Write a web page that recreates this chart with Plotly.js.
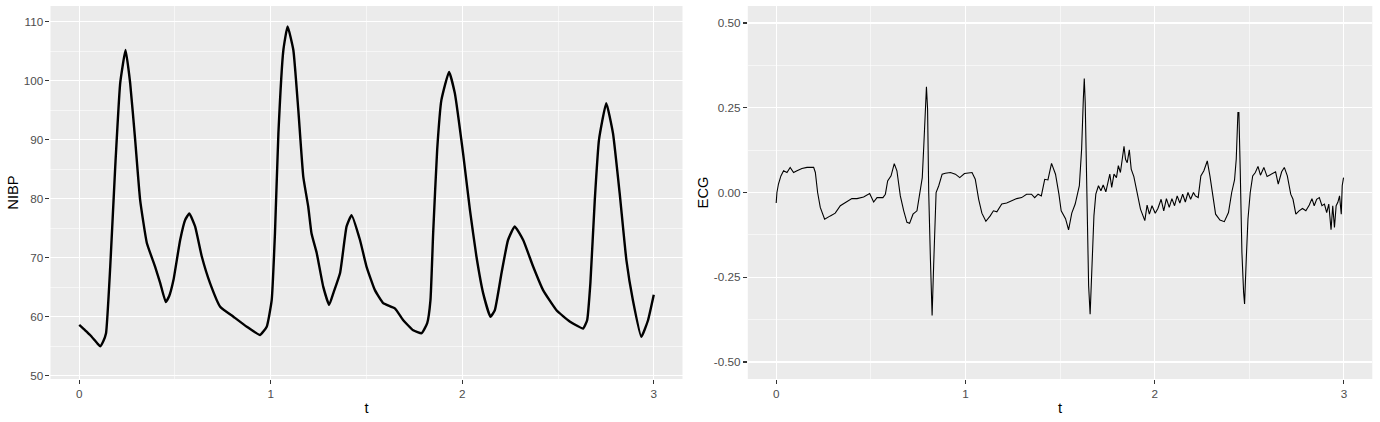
<!DOCTYPE html>
<html>
<head>
<meta charset="utf-8">
<script src="https://cdn.plot.ly/plotly-3.0.1.min.js"></script>
<style>html,body{margin:0;padding:0;background:#fff;}#chart{width:1380px;height:422px;}</style>
</head>
<body>
<div id="chart"></div>
<script>
// NIBP panel data
const nibpT = [0.0, 0.031, 0.057, 0.094, 0.11, 0.125, 0.14, 0.162, 0.188, 0.214, 0.242, 0.266, 0.292, 0.318, 0.353, 0.396, 0.423, 0.452, 0.47, 0.492, 0.527, 0.553, 0.575, 0.605, 0.64, 0.683, 0.736, 0.805, 0.875, 0.944, 0.979, 1.005, 1.022, 1.04, 1.066, 1.088, 1.118, 1.144, 1.17, 1.196, 1.213, 1.24, 1.274, 1.305, 1.327, 1.362, 1.396, 1.422, 1.466, 1.5, 1.544, 1.587, 1.648, 1.692, 1.744, 1.788, 1.817, 1.834, 1.848, 1.869, 1.891, 1.931, 1.961, 2.005, 2.04, 2.074, 2.109, 2.147, 2.17, 2.205, 2.239, 2.274, 2.318, 2.37, 2.422, 2.492, 2.561, 2.631, 2.652, 2.669, 2.692, 2.714, 2.752, 2.787, 2.822, 2.857, 2.891, 2.935, 2.97, 3.0];
const nibpV = [58.6, 57.7, 56.9, 55.5, 55.0, 55.8, 57.2, 68.5, 85.4, 99.6, 105.2, 99.6, 90.0, 79.8, 72.5, 68.5, 65.7, 62.5, 63.5, 66.2, 73.0, 76.4, 77.5, 75.3, 70.2, 65.7, 61.7, 60.0, 58.3, 56.9, 58.3, 62.8, 74.1, 91.1, 105.2, 109.2, 105.2, 95.0, 83.7, 78.6, 74.1, 70.8, 65.1, 62.0, 64.0, 67.4, 75.3, 77.2, 73.0, 68.5, 64.5, 62.3, 61.4, 59.4, 57.7, 57.2, 58.9, 62.8, 74.1, 88.3, 96.7, 101.5, 97.9, 87.5, 78.1, 70.2, 64.0, 60.0, 61.1, 67.4, 73.0, 75.3, 73.0, 68.5, 64.5, 61.1, 59.2, 58.0, 59.4, 65.7, 79.8, 90.0, 96.2, 91.1, 80.9, 69.6, 62.8, 56.6, 59.4, 63.7];

// ECG panel data
const ecgT = [0.0, 0.004, 0.012, 0.025, 0.039, 0.057, 0.074, 0.092, 0.11, 0.136, 0.163, 0.198, 0.207, 0.219, 0.233, 0.256, 0.286, 0.312, 0.339, 0.374, 0.4, 0.427, 0.462, 0.494, 0.515, 0.533, 0.564, 0.577, 0.589, 0.607, 0.624, 0.638, 0.656, 0.674, 0.691, 0.705, 0.723, 0.744, 0.758, 0.772, 0.78, 0.788, 0.794, 0.8, 0.806, 0.815, 0.824, 0.832, 0.845, 0.859, 0.877, 0.894, 0.921, 0.947, 0.97, 0.995, 1.018, 1.035, 1.052, 1.07, 1.087, 1.108, 1.131, 1.148, 1.166, 1.192, 1.218, 1.244, 1.271, 1.297, 1.323, 1.349, 1.366, 1.384, 1.401, 1.419, 1.436, 1.455, 1.476, 1.494, 1.506, 1.529, 1.545, 1.562, 1.58, 1.602, 1.614, 1.623, 1.628, 1.633, 1.64, 1.651, 1.659, 1.668, 1.679, 1.689, 1.703, 1.716, 1.728, 1.742, 1.754, 1.763, 1.773, 1.785, 1.798, 1.808, 1.819, 1.829, 1.838, 1.846, 1.855, 1.866, 1.876, 1.89, 1.907, 1.925, 1.948, 1.96, 1.972, 1.986, 2.003, 2.017, 2.034, 2.048, 2.062, 2.077, 2.091, 2.105, 2.119, 2.133, 2.148, 2.162, 2.176, 2.19, 2.205, 2.215, 2.23, 2.244, 2.26, 2.278, 2.292, 2.31, 2.322, 2.345, 2.368, 2.39, 2.407, 2.422, 2.431, 2.44, 2.445, 2.452, 2.461, 2.47, 2.475, 2.484, 2.493, 2.505, 2.518, 2.532, 2.546, 2.559, 2.577, 2.594, 2.621, 2.639, 2.653, 2.671, 2.685, 2.701, 2.719, 2.731, 2.746, 2.763, 2.781, 2.799, 2.817, 2.831, 2.843, 2.856, 2.87, 2.884, 2.897, 2.909, 2.92, 2.932, 2.941, 2.95, 2.959, 2.968, 2.977, 2.986, 2.991, 2.998];
const ecgV = [-0.031, 0.0, 0.025, 0.049, 0.064, 0.059, 0.074, 0.059, 0.064, 0.071, 0.074, 0.074, 0.059, 0.0, -0.044, -0.079, -0.069, -0.061, -0.039, -0.028, -0.018, -0.018, -0.013, -0.003, -0.028, -0.015, -0.015, -0.005, 0.034, 0.049, 0.085, 0.064, -0.01, -0.054, -0.088, -0.091, -0.064, -0.054, -0.01, 0.044, 0.138, 0.275, 0.312, 0.246, 0.0, -0.196, -0.363, -0.216, 0.0, 0.02, 0.054, 0.057, 0.059, 0.054, 0.044, 0.056, 0.057, 0.059, 0.039, -0.02, -0.061, -0.085, -0.069, -0.054, -0.057, -0.034, -0.031, -0.025, -0.018, -0.015, -0.005, -0.005, -0.015, -0.005, -0.01, 0.039, 0.037, 0.086, 0.054, -0.005, -0.054, -0.077, -0.11, -0.061, -0.034, 0.02, 0.128, 0.275, 0.336, 0.265, 0.0, -0.275, -0.359, -0.246, -0.069, -0.005, 0.02, 0.005, 0.022, 0.002, 0.028, 0.054, 0.015, 0.054, 0.044, 0.079, 0.059, 0.108, 0.136, 0.098, 0.088, 0.126, 0.069, 0.047, 0.0, -0.049, -0.083, -0.037, -0.064, -0.039, -0.061, -0.047, -0.02, -0.054, -0.018, -0.044, -0.018, -0.039, -0.01, -0.031, -0.005, -0.028, 0.0, -0.02, 0.0, -0.01, -0.015, 0.049, 0.064, 0.093, 0.049, -0.02, -0.064, -0.081, -0.086, -0.059, 0.0, 0.037, 0.098, 0.236, 0.236, 0.069, -0.177, -0.295, -0.329, -0.196, -0.079, 0.0, 0.049, 0.059, 0.077, 0.051, 0.074, 0.047, 0.054, 0.061, 0.025, 0.061, 0.074, 0.049, -0.005, -0.02, -0.064, -0.054, -0.047, -0.054, -0.037, -0.018, -0.039, -0.02, -0.015, -0.039, -0.034, -0.059, -0.034, -0.11, -0.039, -0.103, -0.039, -0.029, -0.01, -0.064, 0.02, 0.044];

// tick labels
const tTicks = [0, 1, 2, 3];
const tTickText = ['0', '1', '2', '3'];
const nibpTicks = [50, 60, 70, 80, 90, 100, 110];
const nibpTickText = ['50', '60', '70', '80', '90', '100', '110'];
const ecgTicks = [-0.5, -0.25, 0, 0.25, 0.5];
const ecgTickText = ['-0.50', '-0.25', '0.00', '0.25', '0.50'];

const FONT = 'Liberation Sans, Arial, sans-serif';

const traces = [
  {x: nibpT, y: nibpV, type: 'scatter', mode: 'lines', xaxis: 'x', yaxis: 'y',
   line: {color: '#000000', width: 2.4, shape: 'spline', smoothing: 0.4}, hoverinfo: 'skip'},
  {x: ecgT, y: ecgV, type: 'scatter', mode: 'lines', xaxis: 'x2', yaxis: 'y2',
   line: {color: '#000000', width: 1.1}, hoverinfo: 'skip'}
];

function xAxis(domain, anchor) {
  return {
    domain: domain, anchor: anchor, range: [-0.15, 3.15],
    tickmode: 'array', tickvals: tTicks, ticktext: tTickText,
    ticks: 'outside', ticklen: 4, tickwidth: 1.1, tickcolor: '#333333',
    tickfont: {family: FONT, size: 11.7, color: '#4D4D4D'},
    showgrid: true, gridcolor: '#FFFFFF', gridwidth: 1.1,
    minor: {tickmode: 'array', tickvals: [0.5, 1.5, 2.5], showgrid: true, gridcolor: '#FFFFFF', gridwidth: 0.55, ticks: ''},
    zeroline: false, showline: false, fixedrange: true,
    title: {text: 't', font: {family: FONT, size: 14.7, color: '#000000'}, standoff: 3},
    automargin: false
  };
}
function yAxis(domainAnchor, range, vals, text, minorVals, title) {
  return {
    anchor: domainAnchor, range: range,
    tickmode: 'array', tickvals: vals, ticktext: text,
    ticks: 'outside', ticklen: 4, tickwidth: 1.1, tickcolor: '#333333',
    tickfont: {family: FONT, size: 11.7, color: '#4D4D4D'},
    showgrid: true, gridcolor: '#FFFFFF', gridwidth: 1.1,
    minor: {tickmode: 'array', tickvals: minorVals, showgrid: true, gridcolor: '#FFFFFF', gridwidth: 0.55, ticks: ''},
    zeroline: false, showline: false, fixedrange: true,
    title: {text: title, font: {family: FONT, size: 14.7, color: '#000000'}, standoff: 1},
    automargin: false
  };
}

const layout = {
  width: 1380, height: 422,
  margin: {l: 0, r: 0, t: 6, b: 43, pad: 0},
  paper_bgcolor: '#FFFFFF', plot_bgcolor: '#EBEBEB',
  showlegend: false,
  xaxis: xAxis([0.03659, 0.49457], 'y'),
  yaxis: yAxis('x', [49.44, 112.66], nibpTicks, nibpTickText, [55, 65, 75, 85, 95, 105], 'NIBP'),
  xaxis2: xAxis([0.54188, 0.99442], 'y2'),
  yaxis2: yAxis('x2', [-0.55, 0.55], ecgTicks, ecgTickText, [-0.375, -0.125, 0.125, 0.375], 'ECG')
};

Plotly.newPlot('chart', traces, layout, {displayModeBar: false, staticPlot: true});
</script>
</body>
</html>
